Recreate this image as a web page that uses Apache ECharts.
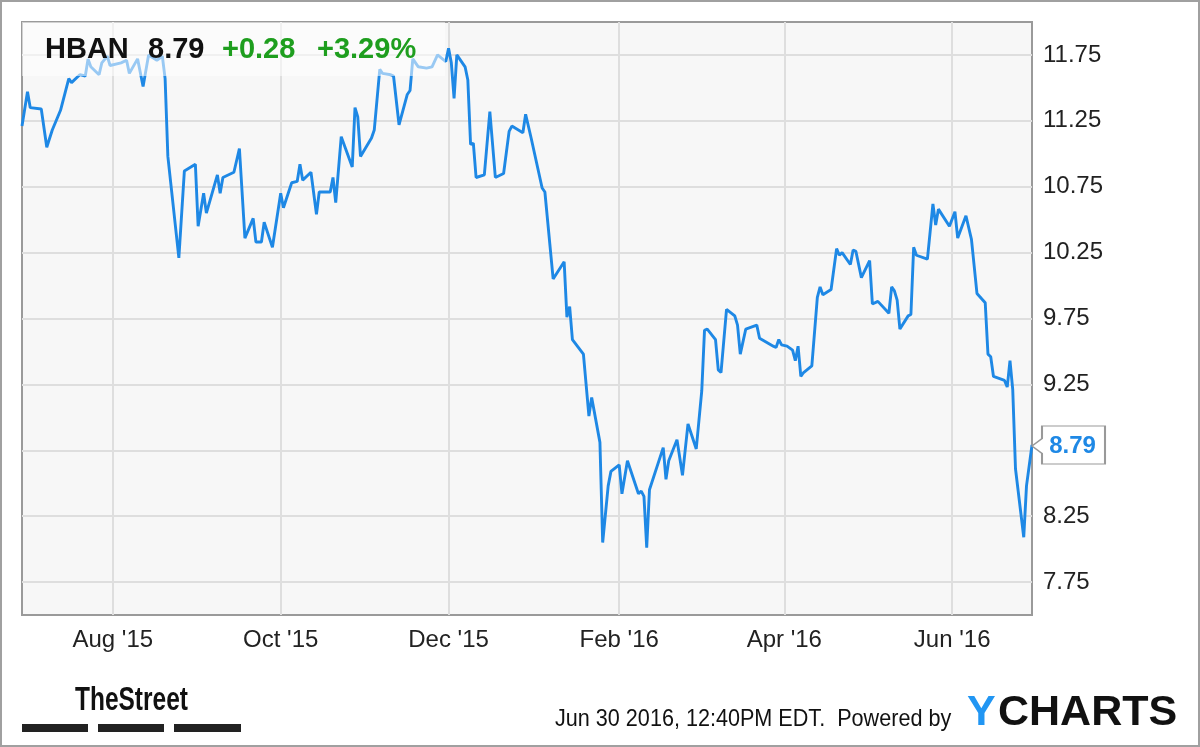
<!DOCTYPE html>
<html><head><meta charset="utf-8">
<script src="https://cdn.jsdelivr.net/npm/echarts@6/dist/echarts.min.js"></script>
<style>html,body{margin:0;padding:0;background:#fff}#c{width:1200px;height:747px}</style>
</head><body><div id="c"></div>
<script>
const dates = [
'2015-06-29','2015-07-01','2015-07-02','2015-07-06','2015-07-08','2015-07-10','2015-07-13','2015-07-16','2015-07-17','2015-07-20',
'2015-07-22','2015-07-23','2015-07-24','2015-07-27','2015-07-28','2015-07-30','2015-07-31','2015-08-04','2015-08-06','2015-08-07',
'2015-08-10','2015-08-12','2015-08-14','2015-08-17','2015-08-19','2015-08-20','2015-08-21','2015-08-25','2015-08-27','2015-08-31',
'2015-09-01','2015-09-03','2015-09-04','2015-09-08','2015-09-09','2015-09-10','2015-09-14','2015-09-16','2015-09-18','2015-09-21',
'2015-09-22','2015-09-24','2015-09-25','2015-09-28','2015-10-01','2015-10-02','2015-10-05','2015-10-07','2015-10-08','2015-10-09',
'2015-10-12','2015-10-14','2015-10-15','2015-10-19','2015-10-20','2015-10-21','2015-10-23','2015-10-27','2015-10-28','2015-10-29',
'2015-10-30','2015-11-03','2015-11-04','2015-11-06','2015-11-07','2015-11-10','2015-11-11','2015-11-13','2015-11-16','2015-11-17',
'2015-11-18','2015-11-20','2015-11-23','2015-11-25','2015-11-27','2015-11-30','2015-12-01','2015-12-02','2015-12-03','2015-12-04',
'2015-12-07','2015-12-08','2015-12-09','2015-12-10','2015-12-11','2015-12-14','2015-12-16','2015-12-18','2015-12-21','2015-12-23',
'2015-12-24','2015-12-28','2015-12-29','2015-12-31','2016-01-04','2016-01-05','2016-01-08','2016-01-12','2016-01-13','2016-01-14',
'2016-01-15','2016-01-19','2016-01-21','2016-01-22','2016-01-25','2016-01-26','2016-01-28','2016-01-29','2016-02-01','2016-02-02',
'2016-02-04','2016-02-08','2016-02-09','2016-02-10','2016-02-11','2016-02-12','2016-02-17','2016-02-18','2016-02-19','2016-02-22',
'2016-02-24','2016-02-26','2016-02-29','2016-03-02','2016-03-03','2016-03-04','2016-03-07','2016-03-08','2016-03-09','2016-03-11',
'2016-03-14','2016-03-15','2016-03-16','2016-03-18','2016-03-22','2016-03-23','2016-03-28','2016-03-29','2016-03-30','2016-03-31',
'2016-04-02','2016-04-04','2016-04-05','2016-04-06','2016-04-07','2016-04-08','2016-04-11','2016-04-13','2016-04-14','2016-04-15',
'2016-04-18','2016-04-20','2016-04-21','2016-04-22','2016-04-25','2016-04-26','2016-04-27','2016-04-29','2016-05-02','2016-05-03',
'2016-05-05','2016-05-09','2016-05-10','2016-05-11','2016-05-12','2016-05-13','2016-05-16','2016-05-17','2016-05-18','2016-05-19',
'2016-05-23','2016-05-25','2016-05-26','2016-05-27','2016-05-31','2016-06-02','2016-06-03','2016-06-06','2016-06-08','2016-06-10',
'2016-06-13','2016-06-14','2016-06-15','2016-06-16','2016-06-20','2016-06-21','2016-06-22','2016-06-23','2016-06-24','2016-06-27',
'2016-06-28','2016-06-30'
];
const prices = [
11.21,11.47,11.35,11.34,11.05,11.18,11.33,11.57,11.54,11.60,
11.59,11.72,11.66,11.60,11.69,11.74,11.67,11.69,11.71,11.61,
11.72,11.51,11.75,11.71,11.74,11.57,10.98,10.21,10.87,10.92,
10.45,10.70,10.55,10.84,10.70,10.82,10.86,11.04,10.36,10.51,
10.33,10.33,10.48,10.29,10.70,10.59,10.78,10.79,10.92,10.80,
10.86,10.54,10.71,10.71,10.82,10.63,11.13,10.90,11.35,11.28,
10.98,11.12,11.18,11.64,11.61,11.60,11.59,11.22,11.45,11.48,
11.72,11.66,11.65,11.66,11.75,11.70,11.80,11.69,11.42,11.75,
11.66,11.56,11.07,11.08,10.82,10.84,11.32,10.82,10.85,11.17,
11.21,11.16,11.30,11.12,10.74,10.71,10.05,10.18,9.76,9.84,
9.59,9.48,9.01,9.15,8.81,8.05,8.48,8.59,8.64,8.42,
8.67,8.42,8.44,8.40,8.01,8.45,8.77,8.53,8.67,8.83,
8.56,8.95,8.76,9.20,9.66,9.67,9.59,9.36,9.34,9.82,
9.77,9.70,9.48,9.67,9.70,9.60,9.54,9.53,9.59,9.55,
9.54,9.51,9.43,9.54,9.31,9.34,9.39,9.91,9.99,9.93,
9.97,10.28,10.23,10.25,10.16,10.27,10.26,10.06,10.19,9.86,
9.88,9.79,9.99,9.96,9.89,9.67,9.77,9.78,10.29,10.23,
10.20,10.62,10.46,10.58,10.45,10.56,10.36,10.53,10.35,9.94,
9.87,9.48,9.46,9.31,9.28,9.23,9.43,9.21,8.61,8.09,
8.48,8.79
];
const xTickDates = ['2015-08-01','2015-10-01','2015-12-01','2016-02-01','2016-04-01','2016-06-01'];
const xTickLabels = ["Aug '15","Oct '15","Dec '15","Feb '16","Apr '16","Jun '16"];
const yTicks = [7.75, 8.25, 8.75, 9.25, 9.75, 10.25, 10.75, 11.25, 11.75];
const ticker = 'HBAN', lastPrice = '8.79', change = '+0.28', changePct = '+3.29%';
const footerStamp = 'Jun 30 2016, 12:40PM EDT.  Powered by';

function toTs(s){const p=s.split('-').map(Number);return new Date(p[0],p[1]-1,p[2]).getTime();}
const xTickTs = xTickDates.map(toTs);
const FONT = '"Liberation Sans", Arial, sans-serif';
const lineColor = '#1e88e5';
const chart = echarts.init(document.getElementById('c'));
const lastIdx = dates.length - 1;

chart.setOption({
  backgroundColor: '#fff',
  animation: false,
  grid: {left: 22, right: 168, top: 22, bottom: 132, show: true, backgroundColor: '#f7f7f7', borderColor: '#9a9a9a', borderWidth: 2},
  xAxis: {
    type: 'value', min: toTs('2015-06-29'), max: toTs('2016-06-30'),
    axisLine: {show: false}, axisTick: {show: false, customValues: xTickTs},
    splitLine: {show: true, lineStyle: {color: '#dedede', width: 2}},
    axisLabel: {customValues: xTickTs, margin: 13, fontSize: 24, fontFamily: FONT, color: '#222',
      formatter: function(v){const i = xTickTs.indexOf(v); return i >= 0 ? xTickLabels[i] : '';}}
  },
  yAxis: {
    type: 'value', position: 'right', min: 7.5, max: 12,
    axisLine: {show: false}, axisTick: {show: false, customValues: yTicks},
    splitLine: {show: true, lineStyle: {color: '#dedede', width: 2}},
    axisLabel: {customValues: yTicks, margin: 11, fontSize: 24, fontFamily: FONT, color: '#222',
      formatter: function(v){return v.toFixed(2);}}
  },
  series: [{
    type: 'line', data: dates.map(function(d,i){return [toTs(d), prices[i]];}),
    showSymbol: false, clip: false,
    lineStyle: {color: lineColor, width: 2.9}, itemStyle: {color: lineColor},
    markPoint: {
      symbol: 'path://M0,20 L10,12.5 L10,0 L73,0 L73,38 L10,38 L10,27.5 Z',
      symbolSize: [73, 38], symbolOffset: [36.5, 0], symbolKeepAspect: false,
      itemStyle: {color: '#fff', borderColor: '#999', borderWidth: 1.5},
      label: {show: true, position: 'inside', offset: [4, 1], color: lineColor, fontWeight: 'bold', fontSize: 24, fontFamily: FONT,
        formatter: function(p){return p.value.toFixed(2);}},
      data: [{coord: [toTs(dates[lastIdx]), prices[lastIdx]], value: prices[lastIdx]}],
      z: 10
    }
  }],
  graphic: [
    {type: 'rect', z: 100, shape: {x: 22, y: 22, width: 423, height: 54}, style: {fill: 'rgba(255,255,255,0.55)'}},
    {type: 'text', z: 101, x: 45, y: 50, style: {text: ticker, font: 'bold 29px ' + FONT, fill: '#111', textVerticalAlign: 'middle'}},
    {type: 'text', z: 101, x: 148, y: 50, style: {text: lastPrice, font: 'bold 29px ' + FONT, fill: '#111', textVerticalAlign: 'middle'}},
    {type: 'text', z: 101, x: 222, y: 50, style: {text: change, font: 'bold 29px ' + FONT, fill: '#1e9e1e', textVerticalAlign: 'middle'}},
    {type: 'text', z: 101, x: 317, y: 50, style: {text: changePct, font: 'bold 29px ' + FONT, fill: '#1e9e1e', textVerticalAlign: 'middle'}},
    {type: 'text', z: 101, x: 75, y: 701, scaleX: 0.72, style: {text: 'TheStreet', font: 'bold 34px ' + FONT, fill: '#111', textVerticalAlign: 'middle'}},
    {type: 'rect', z: 101, shape: {x: 22, y: 724, width: 66, height: 8}, style: {fill: '#222'}},
    {type: 'rect', z: 101, shape: {x: 98, y: 724, width: 66, height: 8}, style: {fill: '#222'}},
    {type: 'rect', z: 101, shape: {x: 174, y: 724, width: 67, height: 8}, style: {fill: '#222'}},
    {type: 'text', z: 101, x: 555, y: 719, scaleX: 0.9, style: {text: footerStamp, font: '24px ' + FONT, fill: '#111', textVerticalAlign: 'middle'}},
    {type: 'text', z: 101, x: 967, y: 713, style: {text: 'Y', font: 'bold 43px ' + FONT, fill: '#2196f3', textVerticalAlign: 'middle'}},
    {type: 'text', z: 101, x: 998, y: 713, style: {text: 'CHARTS', font: 'bold 43px ' + FONT, fill: '#111', textVerticalAlign: 'middle'}},
    {type: 'rect', z: 102, shape: {x: 1, y: 1, width: 1198, height: 745}, style: {fill: 'none', stroke: '#a0a0a0', lineWidth: 2}}
  ]
});
</script></body></html>
